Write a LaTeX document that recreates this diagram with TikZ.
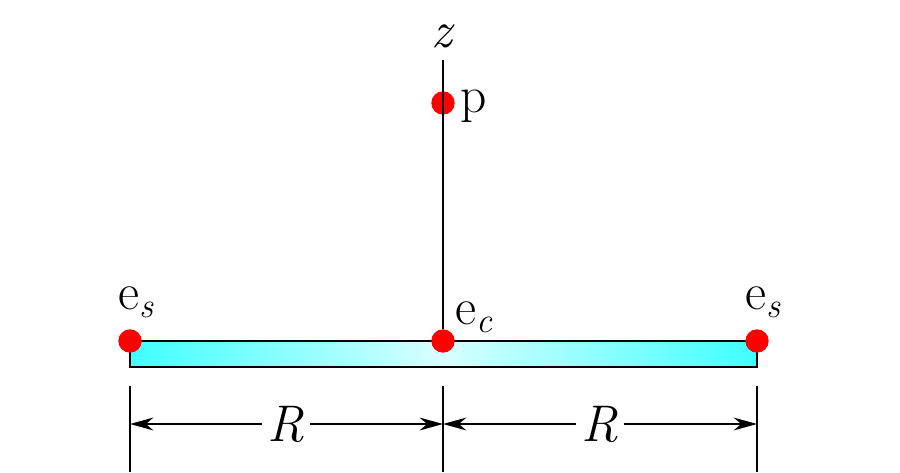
\documentclass[tikz,border=0pt]{standalone}
\usetikzlibrary{arrows.meta}
\begin{document}
\begin{tikzpicture}[x=0.03cm,y=-0.03cm,
  dot/.style={circle,fill=red,inner sep=0pt,minimum size=0.7cm},
  lbl/.style={font=\rmfamily\fontsize{44}{48}\selectfont,inner sep=0pt},
  dim/.style={line width=1.5pt,-{Stealth[length=20pt,width=11pt]}}]
\useasboundingbox (0,0) rectangle (900,472);
\shade[left color=cyan!75,right color=cyan!75,middle color=cyan!15,draw=black,line width=2.4pt] (130,341) rectangle (757,367);
\coordinate (ztop) at (443,60);
\node[dot] (p) at (443,103) {};
\node[dot] (ec) at (443,341) {};
\node[dot] (esl) at (130,341) {};
\node[dot] (esr) at (757,341) {};
\draw[line width=2.4pt] (ztop) -- (ec);
\node[lbl] (z) at (443,36) {\textit{z}};
\node[lbl,anchor=west] (pl) at (460,106) {p};
\node[lbl] (lesl) at (136,302) {e\raisebox{-7pt}{\fontsize{30}{32}\selectfont\textit{s}}};
\node[lbl] (lec) at (474,317) {e\raisebox{-7pt}{\fontsize{30}{32}\selectfont\textit{c}}};
\node[lbl] (lesr) at (763,302) {e\raisebox{-7pt}{\fontsize{30}{32}\selectfont\textit{s}}};
\foreach \x/\n in {130/a,443/b,757/c}{
  \coordinate (\n1) at (\x,386); \coordinate (\n2) at (\x,472);
  \draw[line width=1.5pt] (\n1) -- (\n2);}
\node[lbl,fill=white,inner xsep=5pt] (R1) at (286,424) {\textit{R}};
\node[lbl,fill=white,inner xsep=5pt] (R2) at (600,424) {\textit{R}};
\coordinate (la) at (130,424); \coordinate (lb) at (443,424); \coordinate (lc) at (757,424);
\draw[dim] (R1.west) -- (la);
\draw[dim] (R1.east) -- (lb);
\draw[dim] (R2.west) -- (lb);
\draw[dim] (R2.east) -- (lc);
\end{tikzpicture}
\end{document}
